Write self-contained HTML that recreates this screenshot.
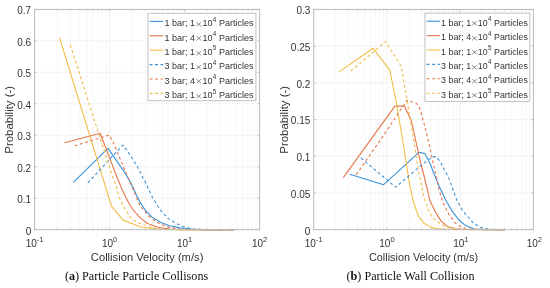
<!DOCTYPE html>
<html><head><meta charset="utf-8"><style>
html,body{margin:0;padding:0;background:#fff;width:550px;height:288px;overflow:hidden}
svg{display:block}
text{font-family:"Liberation Sans", Arial, Helvetica, sans-serif}
</style></head><body>
<svg width="550" height="288" viewBox="0 0 550 288">
<line x1="57.18" y1="9.4" x2="57.18" y2="229.7" stroke="#f6f6f6" stroke-width="0.8"/>
<line x1="70.38" y1="9.4" x2="70.38" y2="229.7" stroke="#f6f6f6" stroke-width="0.8"/>
<line x1="79.75" y1="9.4" x2="79.75" y2="229.7" stroke="#f6f6f6" stroke-width="0.8"/>
<line x1="87.02" y1="9.4" x2="87.02" y2="229.7" stroke="#f6f6f6" stroke-width="0.8"/>
<line x1="92.96" y1="9.4" x2="92.96" y2="229.7" stroke="#f6f6f6" stroke-width="0.8"/>
<line x1="97.98" y1="9.4" x2="97.98" y2="229.7" stroke="#f6f6f6" stroke-width="0.8"/>
<line x1="102.33" y1="9.4" x2="102.33" y2="229.7" stroke="#f6f6f6" stroke-width="0.8"/>
<line x1="106.17" y1="9.4" x2="106.17" y2="229.7" stroke="#f6f6f6" stroke-width="0.8"/>
<line x1="109.60" y1="9.4" x2="109.60" y2="229.7" stroke="#eeeeee" stroke-width="0.8"/>
<line x1="132.18" y1="9.4" x2="132.18" y2="229.7" stroke="#f6f6f6" stroke-width="0.8"/>
<line x1="145.38" y1="9.4" x2="145.38" y2="229.7" stroke="#f6f6f6" stroke-width="0.8"/>
<line x1="154.75" y1="9.4" x2="154.75" y2="229.7" stroke="#f6f6f6" stroke-width="0.8"/>
<line x1="162.02" y1="9.4" x2="162.02" y2="229.7" stroke="#f6f6f6" stroke-width="0.8"/>
<line x1="167.96" y1="9.4" x2="167.96" y2="229.7" stroke="#f6f6f6" stroke-width="0.8"/>
<line x1="172.98" y1="9.4" x2="172.98" y2="229.7" stroke="#f6f6f6" stroke-width="0.8"/>
<line x1="177.33" y1="9.4" x2="177.33" y2="229.7" stroke="#f6f6f6" stroke-width="0.8"/>
<line x1="181.17" y1="9.4" x2="181.17" y2="229.7" stroke="#f6f6f6" stroke-width="0.8"/>
<line x1="184.60" y1="9.4" x2="184.60" y2="229.7" stroke="#eeeeee" stroke-width="0.8"/>
<line x1="207.18" y1="9.4" x2="207.18" y2="229.7" stroke="#f6f6f6" stroke-width="0.8"/>
<line x1="220.38" y1="9.4" x2="220.38" y2="229.7" stroke="#f6f6f6" stroke-width="0.8"/>
<line x1="229.75" y1="9.4" x2="229.75" y2="229.7" stroke="#f6f6f6" stroke-width="0.8"/>
<line x1="237.02" y1="9.4" x2="237.02" y2="229.7" stroke="#f6f6f6" stroke-width="0.8"/>
<line x1="242.96" y1="9.4" x2="242.96" y2="229.7" stroke="#f6f6f6" stroke-width="0.8"/>
<line x1="247.98" y1="9.4" x2="247.98" y2="229.7" stroke="#f6f6f6" stroke-width="0.8"/>
<line x1="252.33" y1="9.4" x2="252.33" y2="229.7" stroke="#f6f6f6" stroke-width="0.8"/>
<line x1="256.17" y1="9.4" x2="256.17" y2="229.7" stroke="#f6f6f6" stroke-width="0.8"/>
<line x1="34.6" y1="198.23" x2="259.6" y2="198.23" stroke="#efefef" stroke-width="0.8"/>
<line x1="34.6" y1="166.76" x2="259.6" y2="166.76" stroke="#efefef" stroke-width="0.8"/>
<line x1="34.6" y1="135.29" x2="259.6" y2="135.29" stroke="#efefef" stroke-width="0.8"/>
<line x1="34.6" y1="103.81" x2="259.6" y2="103.81" stroke="#efefef" stroke-width="0.8"/>
<line x1="34.6" y1="72.34" x2="259.6" y2="72.34" stroke="#efefef" stroke-width="0.8"/>
<line x1="34.6" y1="40.87" x2="259.6" y2="40.87" stroke="#efefef" stroke-width="0.8"/>
<polyline points="73.3,182.4 108.0,148.4 124.8,172.6 130.6,182.5 136.1,194.3 140.0,202.1 145.9,211.0 151.8,216.9 160.1,222.2 169.5,225.7 180.0,227.9 192.0,229.2 205.0,229.6 233.8,229.7" fill="none" stroke="#3a92d8" stroke-width="1.1" stroke-linejoin="round"/>
<polyline points="64.6,142.7 100.1,133.3 116.2,175.0 121.8,188.9 125.2,196.0 129.0,203.5 134.0,211.0 140.2,217.9 147.1,223.2 157.7,227.3 170.7,229.3 185.0,229.7 233.8,229.7" fill="none" stroke="#e6764a" stroke-width="1.1" stroke-linejoin="round"/>
<polyline points="59.6,37.9 111.5,206.1 123.3,220.3 141.6,227.3 160.0,229.2 180.0,229.7 233.8,229.7" fill="none" stroke="#f1bd45" stroke-width="1.1" stroke-linejoin="round"/>
<polyline points="87.9,182.8 122.9,145.0 130.9,156.1 138.7,169.1 146.5,184.7 152.6,197.7 160.1,209.8 168.3,218.6 177.8,224.2 185.0,227.2 192.0,228.8 205.0,229.6 233.8,229.7" fill="none" stroke="#3a92d8" stroke-width="1.1" stroke-linejoin="round" stroke-dasharray="2.9 2.6"/>
<polyline points="74.6,145.8 109.4,135.0 113.9,144.0 124.8,170.0 133.3,190.1 140.0,205.7 148.3,215.7 157.7,222.8 167.1,226.9 180.0,229.2 195.0,229.7 233.8,229.7" fill="none" stroke="#e6764a" stroke-width="1.1" stroke-linejoin="round" stroke-dasharray="2.9 2.6"/>
<polyline points="70.3,45.0 112.3,176.0 116.2,186.1 119.6,197.9 124.0,207.2 130.2,217.2 136.5,222.2 144.0,225.0 152.0,227.8 162.0,229.2 175.0,229.7 233.8,229.7" fill="none" stroke="#f1bd45" stroke-width="1.1" stroke-linejoin="round" stroke-dasharray="2.9 2.6"/>
<rect x="34.6" y="9.4" width="225.00" height="220.30" fill="none" stroke="#bababa" stroke-width="1"/>
<line x1="34.6" y1="229.70" x2="36.800000000000004" y2="229.70" stroke="#bababa" stroke-width="0.8"/>
<line x1="259.6" y1="229.70" x2="257.40000000000003" y2="229.70" stroke="#bababa" stroke-width="0.8"/>
<line x1="34.6" y1="198.23" x2="36.800000000000004" y2="198.23" stroke="#bababa" stroke-width="0.8"/>
<line x1="259.6" y1="198.23" x2="257.40000000000003" y2="198.23" stroke="#bababa" stroke-width="0.8"/>
<line x1="34.6" y1="166.76" x2="36.800000000000004" y2="166.76" stroke="#bababa" stroke-width="0.8"/>
<line x1="259.6" y1="166.76" x2="257.40000000000003" y2="166.76" stroke="#bababa" stroke-width="0.8"/>
<line x1="34.6" y1="135.29" x2="36.800000000000004" y2="135.29" stroke="#bababa" stroke-width="0.8"/>
<line x1="259.6" y1="135.29" x2="257.40000000000003" y2="135.29" stroke="#bababa" stroke-width="0.8"/>
<line x1="34.6" y1="103.81" x2="36.800000000000004" y2="103.81" stroke="#bababa" stroke-width="0.8"/>
<line x1="259.6" y1="103.81" x2="257.40000000000003" y2="103.81" stroke="#bababa" stroke-width="0.8"/>
<line x1="34.6" y1="72.34" x2="36.800000000000004" y2="72.34" stroke="#bababa" stroke-width="0.8"/>
<line x1="259.6" y1="72.34" x2="257.40000000000003" y2="72.34" stroke="#bababa" stroke-width="0.8"/>
<line x1="34.6" y1="40.87" x2="36.800000000000004" y2="40.87" stroke="#bababa" stroke-width="0.8"/>
<line x1="259.6" y1="40.87" x2="257.40000000000003" y2="40.87" stroke="#bababa" stroke-width="0.8"/>
<line x1="34.6" y1="9.40" x2="36.800000000000004" y2="9.40" stroke="#bababa" stroke-width="0.8"/>
<line x1="259.6" y1="9.40" x2="257.40000000000003" y2="9.40" stroke="#bababa" stroke-width="0.8"/>
<line x1="57.18" y1="229.7" x2="57.18" y2="228.39999999999998" stroke="#bababa" stroke-width="0.8"/>
<line x1="57.18" y1="9.4" x2="57.18" y2="10.700000000000001" stroke="#bababa" stroke-width="0.8"/>
<line x1="70.38" y1="229.7" x2="70.38" y2="228.39999999999998" stroke="#bababa" stroke-width="0.8"/>
<line x1="70.38" y1="9.4" x2="70.38" y2="10.700000000000001" stroke="#bababa" stroke-width="0.8"/>
<line x1="79.75" y1="229.7" x2="79.75" y2="228.39999999999998" stroke="#bababa" stroke-width="0.8"/>
<line x1="79.75" y1="9.4" x2="79.75" y2="10.700000000000001" stroke="#bababa" stroke-width="0.8"/>
<line x1="87.02" y1="229.7" x2="87.02" y2="228.39999999999998" stroke="#bababa" stroke-width="0.8"/>
<line x1="87.02" y1="9.4" x2="87.02" y2="10.700000000000001" stroke="#bababa" stroke-width="0.8"/>
<line x1="92.96" y1="229.7" x2="92.96" y2="228.39999999999998" stroke="#bababa" stroke-width="0.8"/>
<line x1="92.96" y1="9.4" x2="92.96" y2="10.700000000000001" stroke="#bababa" stroke-width="0.8"/>
<line x1="97.98" y1="229.7" x2="97.98" y2="228.39999999999998" stroke="#bababa" stroke-width="0.8"/>
<line x1="97.98" y1="9.4" x2="97.98" y2="10.700000000000001" stroke="#bababa" stroke-width="0.8"/>
<line x1="102.33" y1="229.7" x2="102.33" y2="228.39999999999998" stroke="#bababa" stroke-width="0.8"/>
<line x1="102.33" y1="9.4" x2="102.33" y2="10.700000000000001" stroke="#bababa" stroke-width="0.8"/>
<line x1="106.17" y1="229.7" x2="106.17" y2="228.39999999999998" stroke="#bababa" stroke-width="0.8"/>
<line x1="106.17" y1="9.4" x2="106.17" y2="10.700000000000001" stroke="#bababa" stroke-width="0.8"/>
<line x1="109.60" y1="229.7" x2="109.60" y2="227.5" stroke="#bababa" stroke-width="0.8"/>
<line x1="109.60" y1="9.4" x2="109.60" y2="11.600000000000001" stroke="#bababa" stroke-width="0.8"/>
<line x1="132.18" y1="229.7" x2="132.18" y2="228.39999999999998" stroke="#bababa" stroke-width="0.8"/>
<line x1="132.18" y1="9.4" x2="132.18" y2="10.700000000000001" stroke="#bababa" stroke-width="0.8"/>
<line x1="145.38" y1="229.7" x2="145.38" y2="228.39999999999998" stroke="#bababa" stroke-width="0.8"/>
<line x1="145.38" y1="9.4" x2="145.38" y2="10.700000000000001" stroke="#bababa" stroke-width="0.8"/>
<line x1="154.75" y1="229.7" x2="154.75" y2="228.39999999999998" stroke="#bababa" stroke-width="0.8"/>
<line x1="154.75" y1="9.4" x2="154.75" y2="10.700000000000001" stroke="#bababa" stroke-width="0.8"/>
<line x1="162.02" y1="229.7" x2="162.02" y2="228.39999999999998" stroke="#bababa" stroke-width="0.8"/>
<line x1="162.02" y1="9.4" x2="162.02" y2="10.700000000000001" stroke="#bababa" stroke-width="0.8"/>
<line x1="167.96" y1="229.7" x2="167.96" y2="228.39999999999998" stroke="#bababa" stroke-width="0.8"/>
<line x1="167.96" y1="9.4" x2="167.96" y2="10.700000000000001" stroke="#bababa" stroke-width="0.8"/>
<line x1="172.98" y1="229.7" x2="172.98" y2="228.39999999999998" stroke="#bababa" stroke-width="0.8"/>
<line x1="172.98" y1="9.4" x2="172.98" y2="10.700000000000001" stroke="#bababa" stroke-width="0.8"/>
<line x1="177.33" y1="229.7" x2="177.33" y2="228.39999999999998" stroke="#bababa" stroke-width="0.8"/>
<line x1="177.33" y1="9.4" x2="177.33" y2="10.700000000000001" stroke="#bababa" stroke-width="0.8"/>
<line x1="181.17" y1="229.7" x2="181.17" y2="228.39999999999998" stroke="#bababa" stroke-width="0.8"/>
<line x1="181.17" y1="9.4" x2="181.17" y2="10.700000000000001" stroke="#bababa" stroke-width="0.8"/>
<line x1="184.60" y1="229.7" x2="184.60" y2="227.5" stroke="#bababa" stroke-width="0.8"/>
<line x1="184.60" y1="9.4" x2="184.60" y2="11.600000000000001" stroke="#bababa" stroke-width="0.8"/>
<line x1="207.18" y1="229.7" x2="207.18" y2="228.39999999999998" stroke="#bababa" stroke-width="0.8"/>
<line x1="207.18" y1="9.4" x2="207.18" y2="10.700000000000001" stroke="#bababa" stroke-width="0.8"/>
<line x1="220.38" y1="229.7" x2="220.38" y2="228.39999999999998" stroke="#bababa" stroke-width="0.8"/>
<line x1="220.38" y1="9.4" x2="220.38" y2="10.700000000000001" stroke="#bababa" stroke-width="0.8"/>
<line x1="229.75" y1="229.7" x2="229.75" y2="228.39999999999998" stroke="#bababa" stroke-width="0.8"/>
<line x1="229.75" y1="9.4" x2="229.75" y2="10.700000000000001" stroke="#bababa" stroke-width="0.8"/>
<line x1="237.02" y1="229.7" x2="237.02" y2="228.39999999999998" stroke="#bababa" stroke-width="0.8"/>
<line x1="237.02" y1="9.4" x2="237.02" y2="10.700000000000001" stroke="#bababa" stroke-width="0.8"/>
<line x1="242.96" y1="229.7" x2="242.96" y2="228.39999999999998" stroke="#bababa" stroke-width="0.8"/>
<line x1="242.96" y1="9.4" x2="242.96" y2="10.700000000000001" stroke="#bababa" stroke-width="0.8"/>
<line x1="247.98" y1="229.7" x2="247.98" y2="228.39999999999998" stroke="#bababa" stroke-width="0.8"/>
<line x1="247.98" y1="9.4" x2="247.98" y2="10.700000000000001" stroke="#bababa" stroke-width="0.8"/>
<line x1="252.33" y1="229.7" x2="252.33" y2="228.39999999999998" stroke="#bababa" stroke-width="0.8"/>
<line x1="252.33" y1="9.4" x2="252.33" y2="10.700000000000001" stroke="#bababa" stroke-width="0.8"/>
<line x1="256.17" y1="229.7" x2="256.17" y2="228.39999999999998" stroke="#bababa" stroke-width="0.8"/>
<line x1="256.17" y1="9.4" x2="256.17" y2="10.700000000000001" stroke="#bababa" stroke-width="0.8"/>
<text x="31.2" y="234.5" text-anchor="end" font-size="10" fill="#333333">0</text>
<text x="31.2" y="203.0" text-anchor="end" font-size="10" fill="#333333">0.1</text>
<text x="31.2" y="171.6" text-anchor="end" font-size="10" fill="#333333">0.2</text>
<text x="31.2" y="140.1" text-anchor="end" font-size="10" fill="#333333">0.3</text>
<text x="31.2" y="108.6" text-anchor="end" font-size="10" fill="#333333">0.4</text>
<text x="31.2" y="77.1" text-anchor="end" font-size="10" fill="#333333">0.5</text>
<text x="31.2" y="45.7" text-anchor="end" font-size="10" fill="#333333">0.6</text>
<text x="31.2" y="14.2" text-anchor="end" font-size="10" fill="#333333">0.7</text>
<text x="34.6" y="246.5" text-anchor="middle" font-size="10" fill="#333333">10<tspan font-size="7.5" dy="-5">-1</tspan></text>
<text x="109.6" y="246.5" text-anchor="middle" font-size="10" fill="#333333">10<tspan font-size="7.5" dy="-5">0</tspan></text>
<text x="184.6" y="246.5" text-anchor="middle" font-size="10" fill="#333333">10<tspan font-size="7.5" dy="-5">1</tspan></text>
<text x="259.6" y="246.5" text-anchor="middle" font-size="10" fill="#333333">10<tspan font-size="7.5" dy="-5">2</tspan></text>
<text x="147.1" y="261.3" text-anchor="middle" font-size="11.2" fill="#333333">Collision Velocity (m/s)</text>
<text transform="translate(13.2,119.8) rotate(-90)" text-anchor="middle" font-size="11.4" fill="#333333">Probability (-)</text>
<rect x="147.9" y="13.3" width="108.0" height="87.4" fill="#fff" stroke="#bababa" stroke-width="0.9"/>
<polyline points="149.6,21.4 163.2,21.4" fill="none" stroke="#3a92d8" stroke-width="1.1" stroke-linejoin="round"/>
<text x="164.50" y="26.1" font-size="9" fill="#333333">1 bar; 1</text>
<text x="198.80" y="26.7" text-anchor="middle" style="font-family:'DejaVu Sans',sans-serif;font-weight:200" font-size="9.5" fill="#333333">×</text>
<text x="202.40" y="26.1" font-size="9" fill="#333333">10</text>
<text x="212.80" y="21.5" font-size="6.3" fill="#333333">4</text>
<text x="219.10" y="26.1" font-size="9" fill="#333333">Particles</text>
<polyline points="149.6,35.8 163.2,35.8" fill="none" stroke="#e6764a" stroke-width="1.1" stroke-linejoin="round"/>
<text x="164.50" y="40.5" font-size="9" fill="#333333">1 bar; 4</text>
<text x="198.80" y="41.1" text-anchor="middle" style="font-family:'DejaVu Sans',sans-serif;font-weight:200" font-size="9.5" fill="#333333">×</text>
<text x="202.40" y="40.5" font-size="9" fill="#333333">10</text>
<text x="212.80" y="35.9" font-size="6.3" fill="#333333">4</text>
<text x="219.10" y="40.5" font-size="9" fill="#333333">Particles</text>
<polyline points="149.6,50.2 163.2,50.2" fill="none" stroke="#f1bd45" stroke-width="1.1" stroke-linejoin="round"/>
<text x="164.50" y="54.9" font-size="9" fill="#333333">1 bar; 1</text>
<text x="198.80" y="55.5" text-anchor="middle" style="font-family:'DejaVu Sans',sans-serif;font-weight:200" font-size="9.5" fill="#333333">×</text>
<text x="202.40" y="54.9" font-size="9" fill="#333333">10</text>
<text x="212.80" y="50.3" font-size="6.3" fill="#333333">5</text>
<text x="219.10" y="54.9" font-size="9" fill="#333333">Particles</text>
<polyline points="149.6,64.6 163.2,64.6" fill="none" stroke="#3a92d8" stroke-width="1.1" stroke-linejoin="round" stroke-dasharray="2.9 2.6"/>
<text x="164.50" y="69.3" font-size="9" fill="#333333">3 bar; 1</text>
<text x="198.80" y="69.9" text-anchor="middle" style="font-family:'DejaVu Sans',sans-serif;font-weight:200" font-size="9.5" fill="#333333">×</text>
<text x="202.40" y="69.3" font-size="9" fill="#333333">10</text>
<text x="212.80" y="64.7" font-size="6.3" fill="#333333">4</text>
<text x="219.10" y="69.3" font-size="9" fill="#333333">Particles</text>
<polyline points="149.6,79.0 163.2,79.0" fill="none" stroke="#e6764a" stroke-width="1.1" stroke-linejoin="round" stroke-dasharray="2.9 2.6"/>
<text x="164.50" y="83.7" font-size="9" fill="#333333">3 bar; 4</text>
<text x="198.80" y="84.3" text-anchor="middle" style="font-family:'DejaVu Sans',sans-serif;font-weight:200" font-size="9.5" fill="#333333">×</text>
<text x="202.40" y="83.7" font-size="9" fill="#333333">10</text>
<text x="212.80" y="79.1" font-size="6.3" fill="#333333">4</text>
<text x="219.10" y="83.7" font-size="9" fill="#333333">Particles</text>
<polyline points="149.6,93.4 163.2,93.4" fill="none" stroke="#f1bd45" stroke-width="1.1" stroke-linejoin="round" stroke-dasharray="2.9 2.6"/>
<text x="164.50" y="98.1" font-size="9" fill="#333333">3 bar; 1</text>
<text x="198.80" y="98.7" text-anchor="middle" style="font-family:'DejaVu Sans',sans-serif;font-weight:200" font-size="9.5" fill="#333333">×</text>
<text x="202.40" y="98.1" font-size="9" fill="#333333">10</text>
<text x="212.80" y="93.5" font-size="6.3" fill="#333333">5</text>
<text x="219.10" y="98.1" font-size="9" fill="#333333">Particles</text>
<line x1="335.75" y1="9.4" x2="335.75" y2="229.7" stroke="#f6f6f6" stroke-width="0.8"/>
<line x1="348.64" y1="9.4" x2="348.64" y2="229.7" stroke="#f6f6f6" stroke-width="0.8"/>
<line x1="357.79" y1="9.4" x2="357.79" y2="229.7" stroke="#f6f6f6" stroke-width="0.8"/>
<line x1="364.89" y1="9.4" x2="364.89" y2="229.7" stroke="#f6f6f6" stroke-width="0.8"/>
<line x1="370.69" y1="9.4" x2="370.69" y2="229.7" stroke="#f6f6f6" stroke-width="0.8"/>
<line x1="375.59" y1="9.4" x2="375.59" y2="229.7" stroke="#f6f6f6" stroke-width="0.8"/>
<line x1="379.84" y1="9.4" x2="379.84" y2="229.7" stroke="#f6f6f6" stroke-width="0.8"/>
<line x1="383.58" y1="9.4" x2="383.58" y2="229.7" stroke="#f6f6f6" stroke-width="0.8"/>
<line x1="386.93" y1="9.4" x2="386.93" y2="229.7" stroke="#eeeeee" stroke-width="0.8"/>
<line x1="408.98" y1="9.4" x2="408.98" y2="229.7" stroke="#f6f6f6" stroke-width="0.8"/>
<line x1="421.87" y1="9.4" x2="421.87" y2="229.7" stroke="#f6f6f6" stroke-width="0.8"/>
<line x1="431.02" y1="9.4" x2="431.02" y2="229.7" stroke="#f6f6f6" stroke-width="0.8"/>
<line x1="438.12" y1="9.4" x2="438.12" y2="229.7" stroke="#f6f6f6" stroke-width="0.8"/>
<line x1="443.92" y1="9.4" x2="443.92" y2="229.7" stroke="#f6f6f6" stroke-width="0.8"/>
<line x1="448.82" y1="9.4" x2="448.82" y2="229.7" stroke="#f6f6f6" stroke-width="0.8"/>
<line x1="453.07" y1="9.4" x2="453.07" y2="229.7" stroke="#f6f6f6" stroke-width="0.8"/>
<line x1="456.82" y1="9.4" x2="456.82" y2="229.7" stroke="#f6f6f6" stroke-width="0.8"/>
<line x1="460.17" y1="9.4" x2="460.17" y2="229.7" stroke="#eeeeee" stroke-width="0.8"/>
<line x1="482.21" y1="9.4" x2="482.21" y2="229.7" stroke="#f6f6f6" stroke-width="0.8"/>
<line x1="495.11" y1="9.4" x2="495.11" y2="229.7" stroke="#f6f6f6" stroke-width="0.8"/>
<line x1="504.26" y1="9.4" x2="504.26" y2="229.7" stroke="#f6f6f6" stroke-width="0.8"/>
<line x1="511.35" y1="9.4" x2="511.35" y2="229.7" stroke="#f6f6f6" stroke-width="0.8"/>
<line x1="517.15" y1="9.4" x2="517.15" y2="229.7" stroke="#f6f6f6" stroke-width="0.8"/>
<line x1="522.06" y1="9.4" x2="522.06" y2="229.7" stroke="#f6f6f6" stroke-width="0.8"/>
<line x1="526.30" y1="9.4" x2="526.30" y2="229.7" stroke="#f6f6f6" stroke-width="0.8"/>
<line x1="530.05" y1="9.4" x2="530.05" y2="229.7" stroke="#f6f6f6" stroke-width="0.8"/>
<line x1="313.7" y1="192.98" x2="533.4" y2="192.98" stroke="#efefef" stroke-width="0.8"/>
<line x1="313.7" y1="156.27" x2="533.4" y2="156.27" stroke="#efefef" stroke-width="0.8"/>
<line x1="313.7" y1="119.55" x2="533.4" y2="119.55" stroke="#efefef" stroke-width="0.8"/>
<line x1="313.7" y1="82.83" x2="533.4" y2="82.83" stroke="#efefef" stroke-width="0.8"/>
<line x1="313.7" y1="46.12" x2="533.4" y2="46.12" stroke="#efefef" stroke-width="0.8"/>
<polyline points="349.8,174.2 383.7,184.7 419.1,152.2 424.8,153.6 430.4,164.3 434.4,175.0 440.0,188.0 445.6,200.0 452.2,211.1 458.9,220.0 465.6,225.6 474.2,229.1 485.0,229.6 505.0,229.7" fill="none" stroke="#3a92d8" stroke-width="1.1" stroke-linejoin="round"/>
<polyline points="343.3,177.6 394.9,106.1 404.4,106.1 411.4,120.8 419.5,158.0 425.0,180.0 428.0,192.0 430.0,201.1 435.6,212.2 441.1,221.1 447.8,226.7 455.6,228.7 465.0,229.5 505.0,229.7" fill="none" stroke="#e6764a" stroke-width="1.1" stroke-linejoin="round"/>
<polyline points="338.8,72.1 373.2,48.3 389.9,70.3 395.8,100.0 401.8,135.0 409.7,185.0 411.9,194.8 414.3,204.6 418.4,216.0 424.1,223.3 430.6,227.1 438.0,228.7 450.0,229.5 505.0,229.7" fill="none" stroke="#f1bd45" stroke-width="1.1" stroke-linejoin="round"/>
<polyline points="361.0,158.0 395.6,187.2 420.0,166.4 432.0,157.0 436.0,156.6 440.0,161.5 449.2,178.9 456.7,200.0 462.2,210.0 466.4,215.0 473.1,222.8 478.1,226.1 483.7,228.3 489.8,229.4 505.0,229.7" fill="none" stroke="#3a92d8" stroke-width="1.1" stroke-linejoin="round" stroke-dasharray="2.9 2.6"/>
<polyline points="356.3,174.6 381.8,137.9 407.0,100.2 416.5,103.4 419.5,108.0 421.8,115.5 425.0,127.0 428.5,141.5 432.5,160.0 436.5,177.3 439.0,190.0 442.8,202.2 448.9,214.4 455.6,223.3 462.2,227.6 470.0,229.2 505.0,229.7" fill="none" stroke="#e6764a" stroke-width="1.1" stroke-linejoin="round" stroke-dasharray="2.9 2.6"/>
<polyline points="350.8,71.0 385.7,41.6 401.3,66.5 407.1,100.0 410.2,119.5 414.0,142.0 417.0,162.0 420.3,180.0 421.6,185.5 424.1,198.0 428.2,209.5 431.1,215.6 435.6,220.6 441.1,224.4 447.8,227.2 458.0,229.2 505.0,229.7" fill="none" stroke="#f1bd45" stroke-width="1.1" stroke-linejoin="round" stroke-dasharray="2.9 2.6"/>
<rect x="313.7" y="9.4" width="219.70" height="220.30" fill="none" stroke="#bababa" stroke-width="1"/>
<line x1="313.7" y1="229.70" x2="315.9" y2="229.70" stroke="#bababa" stroke-width="0.8"/>
<line x1="533.4" y1="229.70" x2="531.1999999999999" y2="229.70" stroke="#bababa" stroke-width="0.8"/>
<line x1="313.7" y1="192.98" x2="315.9" y2="192.98" stroke="#bababa" stroke-width="0.8"/>
<line x1="533.4" y1="192.98" x2="531.1999999999999" y2="192.98" stroke="#bababa" stroke-width="0.8"/>
<line x1="313.7" y1="156.27" x2="315.9" y2="156.27" stroke="#bababa" stroke-width="0.8"/>
<line x1="533.4" y1="156.27" x2="531.1999999999999" y2="156.27" stroke="#bababa" stroke-width="0.8"/>
<line x1="313.7" y1="119.55" x2="315.9" y2="119.55" stroke="#bababa" stroke-width="0.8"/>
<line x1="533.4" y1="119.55" x2="531.1999999999999" y2="119.55" stroke="#bababa" stroke-width="0.8"/>
<line x1="313.7" y1="82.83" x2="315.9" y2="82.83" stroke="#bababa" stroke-width="0.8"/>
<line x1="533.4" y1="82.83" x2="531.1999999999999" y2="82.83" stroke="#bababa" stroke-width="0.8"/>
<line x1="313.7" y1="46.12" x2="315.9" y2="46.12" stroke="#bababa" stroke-width="0.8"/>
<line x1="533.4" y1="46.12" x2="531.1999999999999" y2="46.12" stroke="#bababa" stroke-width="0.8"/>
<line x1="313.7" y1="9.40" x2="315.9" y2="9.40" stroke="#bababa" stroke-width="0.8"/>
<line x1="533.4" y1="9.40" x2="531.1999999999999" y2="9.40" stroke="#bababa" stroke-width="0.8"/>
<line x1="335.75" y1="229.7" x2="335.75" y2="228.39999999999998" stroke="#bababa" stroke-width="0.8"/>
<line x1="335.75" y1="9.4" x2="335.75" y2="10.700000000000001" stroke="#bababa" stroke-width="0.8"/>
<line x1="348.64" y1="229.7" x2="348.64" y2="228.39999999999998" stroke="#bababa" stroke-width="0.8"/>
<line x1="348.64" y1="9.4" x2="348.64" y2="10.700000000000001" stroke="#bababa" stroke-width="0.8"/>
<line x1="357.79" y1="229.7" x2="357.79" y2="228.39999999999998" stroke="#bababa" stroke-width="0.8"/>
<line x1="357.79" y1="9.4" x2="357.79" y2="10.700000000000001" stroke="#bababa" stroke-width="0.8"/>
<line x1="364.89" y1="229.7" x2="364.89" y2="228.39999999999998" stroke="#bababa" stroke-width="0.8"/>
<line x1="364.89" y1="9.4" x2="364.89" y2="10.700000000000001" stroke="#bababa" stroke-width="0.8"/>
<line x1="370.69" y1="229.7" x2="370.69" y2="228.39999999999998" stroke="#bababa" stroke-width="0.8"/>
<line x1="370.69" y1="9.4" x2="370.69" y2="10.700000000000001" stroke="#bababa" stroke-width="0.8"/>
<line x1="375.59" y1="229.7" x2="375.59" y2="228.39999999999998" stroke="#bababa" stroke-width="0.8"/>
<line x1="375.59" y1="9.4" x2="375.59" y2="10.700000000000001" stroke="#bababa" stroke-width="0.8"/>
<line x1="379.84" y1="229.7" x2="379.84" y2="228.39999999999998" stroke="#bababa" stroke-width="0.8"/>
<line x1="379.84" y1="9.4" x2="379.84" y2="10.700000000000001" stroke="#bababa" stroke-width="0.8"/>
<line x1="383.58" y1="229.7" x2="383.58" y2="228.39999999999998" stroke="#bababa" stroke-width="0.8"/>
<line x1="383.58" y1="9.4" x2="383.58" y2="10.700000000000001" stroke="#bababa" stroke-width="0.8"/>
<line x1="386.93" y1="229.7" x2="386.93" y2="227.5" stroke="#bababa" stroke-width="0.8"/>
<line x1="386.93" y1="9.4" x2="386.93" y2="11.600000000000001" stroke="#bababa" stroke-width="0.8"/>
<line x1="408.98" y1="229.7" x2="408.98" y2="228.39999999999998" stroke="#bababa" stroke-width="0.8"/>
<line x1="408.98" y1="9.4" x2="408.98" y2="10.700000000000001" stroke="#bababa" stroke-width="0.8"/>
<line x1="421.87" y1="229.7" x2="421.87" y2="228.39999999999998" stroke="#bababa" stroke-width="0.8"/>
<line x1="421.87" y1="9.4" x2="421.87" y2="10.700000000000001" stroke="#bababa" stroke-width="0.8"/>
<line x1="431.02" y1="229.7" x2="431.02" y2="228.39999999999998" stroke="#bababa" stroke-width="0.8"/>
<line x1="431.02" y1="9.4" x2="431.02" y2="10.700000000000001" stroke="#bababa" stroke-width="0.8"/>
<line x1="438.12" y1="229.7" x2="438.12" y2="228.39999999999998" stroke="#bababa" stroke-width="0.8"/>
<line x1="438.12" y1="9.4" x2="438.12" y2="10.700000000000001" stroke="#bababa" stroke-width="0.8"/>
<line x1="443.92" y1="229.7" x2="443.92" y2="228.39999999999998" stroke="#bababa" stroke-width="0.8"/>
<line x1="443.92" y1="9.4" x2="443.92" y2="10.700000000000001" stroke="#bababa" stroke-width="0.8"/>
<line x1="448.82" y1="229.7" x2="448.82" y2="228.39999999999998" stroke="#bababa" stroke-width="0.8"/>
<line x1="448.82" y1="9.4" x2="448.82" y2="10.700000000000001" stroke="#bababa" stroke-width="0.8"/>
<line x1="453.07" y1="229.7" x2="453.07" y2="228.39999999999998" stroke="#bababa" stroke-width="0.8"/>
<line x1="453.07" y1="9.4" x2="453.07" y2="10.700000000000001" stroke="#bababa" stroke-width="0.8"/>
<line x1="456.82" y1="229.7" x2="456.82" y2="228.39999999999998" stroke="#bababa" stroke-width="0.8"/>
<line x1="456.82" y1="9.4" x2="456.82" y2="10.700000000000001" stroke="#bababa" stroke-width="0.8"/>
<line x1="460.17" y1="229.7" x2="460.17" y2="227.5" stroke="#bababa" stroke-width="0.8"/>
<line x1="460.17" y1="9.4" x2="460.17" y2="11.600000000000001" stroke="#bababa" stroke-width="0.8"/>
<line x1="482.21" y1="229.7" x2="482.21" y2="228.39999999999998" stroke="#bababa" stroke-width="0.8"/>
<line x1="482.21" y1="9.4" x2="482.21" y2="10.700000000000001" stroke="#bababa" stroke-width="0.8"/>
<line x1="495.11" y1="229.7" x2="495.11" y2="228.39999999999998" stroke="#bababa" stroke-width="0.8"/>
<line x1="495.11" y1="9.4" x2="495.11" y2="10.700000000000001" stroke="#bababa" stroke-width="0.8"/>
<line x1="504.26" y1="229.7" x2="504.26" y2="228.39999999999998" stroke="#bababa" stroke-width="0.8"/>
<line x1="504.26" y1="9.4" x2="504.26" y2="10.700000000000001" stroke="#bababa" stroke-width="0.8"/>
<line x1="511.35" y1="229.7" x2="511.35" y2="228.39999999999998" stroke="#bababa" stroke-width="0.8"/>
<line x1="511.35" y1="9.4" x2="511.35" y2="10.700000000000001" stroke="#bababa" stroke-width="0.8"/>
<line x1="517.15" y1="229.7" x2="517.15" y2="228.39999999999998" stroke="#bababa" stroke-width="0.8"/>
<line x1="517.15" y1="9.4" x2="517.15" y2="10.700000000000001" stroke="#bababa" stroke-width="0.8"/>
<line x1="522.06" y1="229.7" x2="522.06" y2="228.39999999999998" stroke="#bababa" stroke-width="0.8"/>
<line x1="522.06" y1="9.4" x2="522.06" y2="10.700000000000001" stroke="#bababa" stroke-width="0.8"/>
<line x1="526.30" y1="229.7" x2="526.30" y2="228.39999999999998" stroke="#bababa" stroke-width="0.8"/>
<line x1="526.30" y1="9.4" x2="526.30" y2="10.700000000000001" stroke="#bababa" stroke-width="0.8"/>
<line x1="530.05" y1="229.7" x2="530.05" y2="228.39999999999998" stroke="#bababa" stroke-width="0.8"/>
<line x1="530.05" y1="9.4" x2="530.05" y2="10.700000000000001" stroke="#bababa" stroke-width="0.8"/>
<text x="310.3" y="234.5" text-anchor="end" font-size="10" fill="#333333">0</text>
<text x="310.3" y="197.8" text-anchor="end" font-size="10" fill="#333333">0.05</text>
<text x="310.3" y="161.1" text-anchor="end" font-size="10" fill="#333333">0.1</text>
<text x="310.3" y="124.3" text-anchor="end" font-size="10" fill="#333333">0.15</text>
<text x="310.3" y="87.6" text-anchor="end" font-size="10" fill="#333333">0.2</text>
<text x="310.3" y="50.9" text-anchor="end" font-size="10" fill="#333333">0.25</text>
<text x="310.3" y="14.2" text-anchor="end" font-size="10" fill="#333333">0.3</text>
<text x="313.7" y="246.5" text-anchor="middle" font-size="10" fill="#333333">10<tspan font-size="7.5" dy="-5">-1</tspan></text>
<text x="386.9" y="246.5" text-anchor="middle" font-size="10" fill="#333333">10<tspan font-size="7.5" dy="-5">0</tspan></text>
<text x="460.8" y="246.5" text-anchor="middle" font-size="10" fill="#333333">10<tspan font-size="7.5" dy="-5">1</tspan></text>
<text x="534.3" y="246.5" text-anchor="middle" font-size="10" fill="#333333">10<tspan font-size="7.5" dy="-5">2</tspan></text>
<text x="423.5" y="261.3" text-anchor="middle" font-size="11.2" fill="#333333" transform="matrix(0.969,0,0,1,13.130,0)">Collision Velocity (m/s)</text>
<text transform="translate(287.5,119.8) rotate(-90)" text-anchor="middle" font-size="11.4" fill="#333333">Probability (-)</text>
<rect x="425" y="13.1" width="104.79999999999995" height="88.30000000000001" fill="#fff" stroke="#bababa" stroke-width="0.9"/>
<polyline points="426.7,21.2 439.9,21.2" fill="none" stroke="#3a92d8" stroke-width="1.1" stroke-linejoin="round"/>
<text x="441.09" y="25.9" font-size="9" fill="#333333" transform="matrix(0.9844999999999999,0,0,1,6.837,0)">1 bar; 1</text>
<text x="474.32" y="26.5" text-anchor="middle" style="font-family:'DejaVu Sans',sans-serif;font-weight:200" font-size="9.5" fill="#333333" transform="matrix(0.9844999999999999,0,0,1,7.352,0)">×</text>
<text x="477.81" y="25.9" font-size="9" fill="#333333" transform="matrix(0.9844999999999999,0,0,1,7.406,0)">10</text>
<text x="487.89" y="21.3" font-size="6.3" fill="#333333" transform="matrix(0.9844999999999999,0,0,1,7.562,0)">4</text>
<text x="493.99" y="25.9" font-size="9" fill="#333333" transform="matrix(0.9844999999999999,0,0,1,7.657,0)">Particles</text>
<polyline points="426.7,35.6 439.9,35.6" fill="none" stroke="#e6764a" stroke-width="1.1" stroke-linejoin="round"/>
<text x="441.09" y="40.3" font-size="9" fill="#333333" transform="matrix(0.9844999999999999,0,0,1,6.837,0)">1 bar; 4</text>
<text x="474.32" y="40.9" text-anchor="middle" style="font-family:'DejaVu Sans',sans-serif;font-weight:200" font-size="9.5" fill="#333333" transform="matrix(0.9844999999999999,0,0,1,7.352,0)">×</text>
<text x="477.81" y="40.3" font-size="9" fill="#333333" transform="matrix(0.9844999999999999,0,0,1,7.406,0)">10</text>
<text x="487.89" y="35.7" font-size="6.3" fill="#333333" transform="matrix(0.9844999999999999,0,0,1,7.562,0)">4</text>
<text x="493.99" y="40.3" font-size="9" fill="#333333" transform="matrix(0.9844999999999999,0,0,1,7.657,0)">Particles</text>
<polyline points="426.7,50.0 439.9,50.0" fill="none" stroke="#f1bd45" stroke-width="1.1" stroke-linejoin="round"/>
<text x="441.09" y="54.7" font-size="9" fill="#333333" transform="matrix(0.9844999999999999,0,0,1,6.837,0)">1 bar; 1</text>
<text x="474.32" y="55.3" text-anchor="middle" style="font-family:'DejaVu Sans',sans-serif;font-weight:200" font-size="9.5" fill="#333333" transform="matrix(0.9844999999999999,0,0,1,7.352,0)">×</text>
<text x="477.81" y="54.7" font-size="9" fill="#333333" transform="matrix(0.9844999999999999,0,0,1,7.406,0)">10</text>
<text x="487.89" y="50.1" font-size="6.3" fill="#333333" transform="matrix(0.9844999999999999,0,0,1,7.562,0)">5</text>
<text x="493.99" y="54.7" font-size="9" fill="#333333" transform="matrix(0.9844999999999999,0,0,1,7.657,0)">Particles</text>
<polyline points="426.7,64.4 439.9,64.4" fill="none" stroke="#3a92d8" stroke-width="1.1" stroke-linejoin="round" stroke-dasharray="2.9 2.6"/>
<text x="441.09" y="69.1" font-size="9" fill="#333333" transform="matrix(0.9844999999999999,0,0,1,6.837,0)">3 bar; 1</text>
<text x="474.32" y="69.7" text-anchor="middle" style="font-family:'DejaVu Sans',sans-serif;font-weight:200" font-size="9.5" fill="#333333" transform="matrix(0.9844999999999999,0,0,1,7.352,0)">×</text>
<text x="477.81" y="69.1" font-size="9" fill="#333333" transform="matrix(0.9844999999999999,0,0,1,7.406,0)">10</text>
<text x="487.89" y="64.5" font-size="6.3" fill="#333333" transform="matrix(0.9844999999999999,0,0,1,7.562,0)">4</text>
<text x="493.99" y="69.1" font-size="9" fill="#333333" transform="matrix(0.9844999999999999,0,0,1,7.657,0)">Particles</text>
<polyline points="426.7,78.8 439.9,78.8" fill="none" stroke="#e6764a" stroke-width="1.1" stroke-linejoin="round" stroke-dasharray="2.9 2.6"/>
<text x="441.09" y="83.5" font-size="9" fill="#333333" transform="matrix(0.9844999999999999,0,0,1,6.837,0)">3 bar; 4</text>
<text x="474.32" y="84.1" text-anchor="middle" style="font-family:'DejaVu Sans',sans-serif;font-weight:200" font-size="9.5" fill="#333333" transform="matrix(0.9844999999999999,0,0,1,7.352,0)">×</text>
<text x="477.81" y="83.5" font-size="9" fill="#333333" transform="matrix(0.9844999999999999,0,0,1,7.406,0)">10</text>
<text x="487.89" y="78.9" font-size="6.3" fill="#333333" transform="matrix(0.9844999999999999,0,0,1,7.562,0)">4</text>
<text x="493.99" y="83.5" font-size="9" fill="#333333" transform="matrix(0.9844999999999999,0,0,1,7.657,0)">Particles</text>
<polyline points="426.7,93.2 439.9,93.2" fill="none" stroke="#f1bd45" stroke-width="1.1" stroke-linejoin="round" stroke-dasharray="2.9 2.6"/>
<text x="441.09" y="97.9" font-size="9" fill="#333333" transform="matrix(0.9844999999999999,0,0,1,6.837,0)">3 bar; 1</text>
<text x="474.32" y="98.5" text-anchor="middle" style="font-family:'DejaVu Sans',sans-serif;font-weight:200" font-size="9.5" fill="#333333" transform="matrix(0.9844999999999999,0,0,1,7.352,0)">×</text>
<text x="477.81" y="97.9" font-size="9" fill="#333333" transform="matrix(0.9844999999999999,0,0,1,7.406,0)">10</text>
<text x="487.89" y="93.3" font-size="6.3" fill="#333333" transform="matrix(0.9844999999999999,0,0,1,7.562,0)">5</text>
<text x="493.99" y="97.9" font-size="9" fill="#333333" transform="matrix(0.9844999999999999,0,0,1,7.657,0)">Particles</text>
<text x="64.9" y="279.6" style='font-family:"Liberation Serif", "Times New Roman", serif' font-size="12.15" fill="#111">(<tspan font-weight="bold">a</tspan>) Particle Particle Collisons</text>
<text x="346.5" y="279.6" style='font-family:"Liberation Serif", "Times New Roman", serif' font-size="12.15" fill="#111">(<tspan font-weight="bold">b</tspan>) Particle Wall Collision</text>
</svg>
</body></html>
